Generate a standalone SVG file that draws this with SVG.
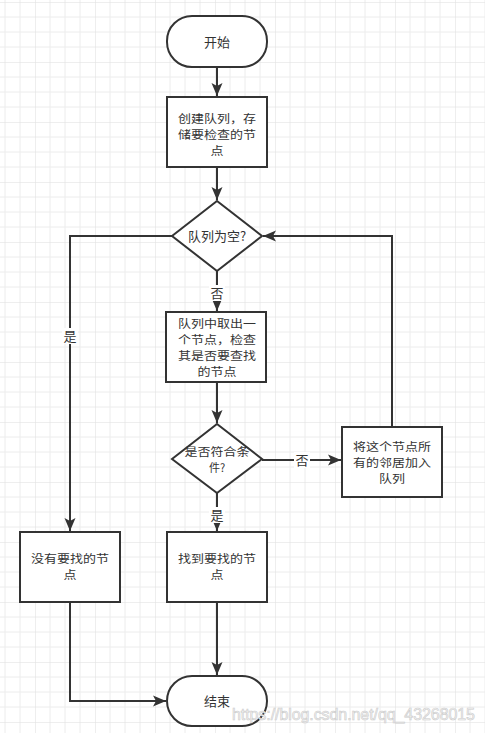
<svg xmlns="http://www.w3.org/2000/svg" width="485" height="733" viewBox="0 0 485 733">
<style>
.shape{fill:#ffffff;stroke:#333333;stroke-width:2}
.t{font-family:"Noto Sans CJK SC","Liberation Sans",sans-serif;font-size:13px;fill:#333333;text-anchor:middle}
.m{font-family:"Noto Sans CJK SC","Liberation Sans",sans-serif;font-size:11px;fill:#333333;text-anchor:middle}
.conn{fill:none;stroke:#333333;stroke-width:2}
.lbl{fill:#ffffff}
</style>
<defs>
<pattern id="grid" patternUnits="userSpaceOnUse" x="35" y="2" width="60" height="60">
<path d="M15,0V60M30,0V60M45,0V60M0,15H60M0,30H60M0,45H60" stroke="#ececec" stroke-width="1" fill="none"/>
<path d="M0,0V60M0,0H60" stroke="#dedede" stroke-width="1" fill="none"/>
</pattern>
<marker id="arr" markerUnits="userSpaceOnUse" markerWidth="14" markerHeight="12" viewBox="0 0 14 12" refX="13" refY="6" orient="auto">
<path d="M0,0.5 L13,6 L0,11.5 L3,6 z" fill="#333333"/>
</marker>
</defs>
<rect x="0" y="0" width="485" height="733" fill="#ffffff"/>
<rect x="0" y="0" width="485" height="733" fill="url(#grid)"/>

<g id="connectors">
<path class="conn" d="M217,67V96" marker-end="url(#arr)"/>
<path class="conn" d="M217,167V200" marker-end="url(#arr)"/>
<path class="conn" d="M217,271V311" marker-end="url(#arr)"/>
<path class="conn" d="M172,236H70V531" marker-end="url(#arr)"/>
<path class="conn" d="M217,382V423" marker-end="url(#arr)"/>
<path class="conn" d="M262,460H341" marker-end="url(#arr)"/>
<path class="conn" d="M217,493V531" marker-end="url(#arr)"/>
<path class="conn" d="M392,427V236H263" marker-end="url(#arr)"/>
<path class="conn" d="M70,602V701H166" marker-end="url(#arr)"/>
<path class="conn" d="M217,602V675" marker-end="url(#arr)"/>
<rect class="lbl" x="209" y="285" width="16" height="16"/>
<text class="t" x="217" y="298">否</text>
<rect class="lbl" x="62" y="328" width="16" height="16"/>
<text class="t" x="70" y="341">是</text>
<rect class="lbl" x="294" y="452" width="16" height="16"/>
<text class="t" x="302" y="465">否</text>
<rect class="lbl" x="209" y="507" width="16" height="16"/>
<text class="t" x="217" y="520">是</text>
</g>

<g id="start">
<rect class="shape" x="167" y="16" width="100" height="51" rx="25" ry="25"/>
<text class="t" x="217" y="47">开始</text>
</g>
<g id="create-queue">
<rect class="shape" x="167" y="97" width="100" height="70"/>
<text class="m"><tspan x="217" y="123" textLength="78" lengthAdjust="spacingAndGlyphs">创建队列，存</tspan><tspan x="217" y="139" textLength="78" lengthAdjust="spacingAndGlyphs">储要检查的节</tspan><tspan x="217" y="155" textLength="13" lengthAdjust="spacingAndGlyphs">点</tspan></text>
</g>
<g id="queue-empty">
<polygon class="shape" points="172,236 217,201 262,236 217,271"/>
<text class="t" x="217" y="241">队列为空?</text>
</g>
<g id="take-node">
<rect class="shape" x="166" y="312" width="100" height="70"/>
<text class="m"><tspan x="217" y="328" textLength="78" lengthAdjust="spacingAndGlyphs">队列中取出一</tspan><tspan x="217" y="344" textLength="78" lengthAdjust="spacingAndGlyphs">个节点，检查</tspan><tspan x="217" y="360" textLength="78" lengthAdjust="spacingAndGlyphs">其是否要查找</tspan><tspan x="217" y="376" textLength="39" lengthAdjust="spacingAndGlyphs">的节点</tspan></text>
</g>
<g id="match">
<polygon class="shape" points="172,459 217,424 262,459 217,493"/>
<text class="m"><tspan x="217" y="455.5" textLength="65" lengthAdjust="spacingAndGlyphs">是否符合条</tspan><tspan x="217" y="471.5">件?</tspan></text>
</g>
<g id="add-neighbors">
<rect class="shape" x="342" y="427" width="100" height="70"/>
<text class="m"><tspan x="392" y="451" textLength="78" lengthAdjust="spacingAndGlyphs">将这个节点所</tspan><tspan x="392" y="467" textLength="78" lengthAdjust="spacingAndGlyphs">有的邻居加入</tspan><tspan x="392" y="483" textLength="26" lengthAdjust="spacingAndGlyphs">队列</tspan></text>
</g>
<g id="not-found">
<rect class="shape" x="20" y="532" width="100" height="70"/>
<text class="m"><tspan x="70" y="563" textLength="78" lengthAdjust="spacingAndGlyphs">没有要找的节</tspan><tspan x="70" y="579" textLength="13" lengthAdjust="spacingAndGlyphs">点</tspan></text>
</g>
<g id="found">
<rect class="shape" x="167" y="532" width="100" height="70"/>
<text class="m"><tspan x="217" y="563" textLength="78" lengthAdjust="spacingAndGlyphs">找到要找的节</tspan><tspan x="217" y="579" textLength="13" lengthAdjust="spacingAndGlyphs">点</tspan></text>
</g>
<g id="end">
<rect class="shape" x="167" y="676" width="100" height="50" rx="25" ry="25"/>
<text class="t" x="217" y="706">结束</text>
</g>
<text x="232" y="720" font-family="Liberation Sans, Arial, sans-serif" font-size="16" textLength="243" fill="#f4f4f4" stroke="#cccccc" stroke-width="0.6">https://blog.csdn.net/qq_43268015</text>
</svg>
